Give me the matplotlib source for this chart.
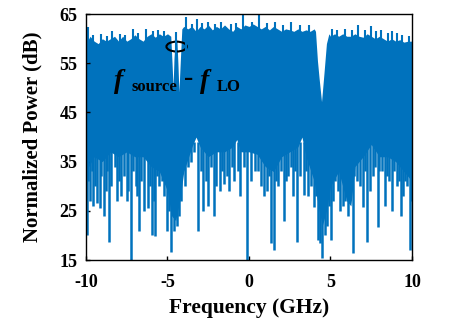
import matplotlib
matplotlib.use("Agg")
import matplotlib.pyplot as plt
from matplotlib.patches import Ellipse

plt.rcParams["axes.unicode_minus"] = False

# upper envelope of the spectrum (GHz, dB)
top_freq = [-10.0, -9.75, -9.5, -9.25, -9.0, -8.75, -8.5, -8.25, -8.0, -7.75, -7.5, -7.25,
            -7.0, -6.75, -6.5, -6.25, -6.0, -5.75, -5.5, -5.25, -5.0, -4.8, -4.72, -4.66,
            -4.6, -4.5, -4.42, -4.36, -4.3, -4.22, -4.12, -4.0, -3.75, -3.5, -3.25, -3.0,
            -2.75, -2.5, -2.25, -2.0, -1.75, -1.5, -1.25, -1.0, -0.75, -0.5, -0.25, 0.0,
            0.25, 0.5, 0.75, 1.0, 1.25, 1.5, 1.75, 2.0, 2.25, 2.5, 2.75, 3.0, 3.25, 3.5,
            3.75, 4.0, 4.08, 4.2, 4.3, 4.45, 4.6, 4.75, 4.9, 5.0, 5.25, 5.5, 5.75, 6.0,
            6.25, 6.5, 6.75, 7.0, 7.25, 7.5, 7.75, 8.0, 8.25, 8.5, 8.75, 9.0, 9.25, 9.5,
            9.75, 10.0]
top_db = [59.0, 60.5, 59.5, 59.0, 60.0, 59.5, 60.0, 60.5, 59.5, 60.5, 59.5, 60.0,
          60.8, 60.0, 59.5, 60.5, 61.0, 60.3, 61.0, 60.5, 61.0, 60.5, 55.0, 50.2,
          56.0, 61.0, 59.5, 55.0, 49.2, 55.0, 62.0, 62.5, 62.0, 62.5, 61.5, 62.5,
          62.0, 62.8, 61.8, 62.5, 62.0, 62.8, 62.0, 61.5, 62.5, 62.0, 62.8, 62.5,
          63.0, 62.5, 62.0, 62.5, 61.8, 62.5, 62.0, 61.5, 62.0, 61.8, 61.5, 62.0, 61.5, 61.8,
          61.5, 62.0, 61.5, 55.5, 52.0, 47.2, 53.0, 59.0, 61.0, 60.5, 61.0, 60.5, 61.0, 60.5,
          60.5, 61.0, 60.5, 60.3, 61.0, 60.5, 60.0, 60.5, 60.0, 59.5, 60.0, 59.5, 59.8, 59.3,
          59.5, 59.5]

# narrow upward peaks
peak_freq = [-9.9, -9.6, -9.1, -8.7, -8.4, -7.9, -7.6, -7.1, -6.8, -6.3, -5.9, -5.6, -5.2,
             -4.45, -3.85, -3.5, -3.2, -2.9, -2.5, -2.1, -1.7, -1.1, -0.8, -0.35, 0.2, 0.64,
             1.1, 1.6, 2.1, 2.6, 3.1, 3.7, 5.1, 5.4, 5.9, 6.3, 6.69, 7.1, 7.5, 7.8, 8.1, 8.5,
             8.8, 9.1, 9.4, 9.8]
peak_db = [62.3, 60.8, 61.0, 60.5, 61.5, 61.0, 60.8, 62.0, 61.2, 62.0, 61.5, 61.8, 61.5,
           61.3, 64.5, 63.0, 64.0, 63.2, 63.5, 63.0, 63.5, 63.0, 63.2, 65.0, 63.5, 64.8,
           63.2, 63.5, 62.8, 63.5, 62.8, 62.8, 62.0, 61.7, 62.0, 61.8, 62.8, 61.8, 62.5, 61.5,
           61.8, 61.2, 61.5, 61.2, 60.8, 60.5]

# lower edge of the dense part
bot_freq = [-10, -9.5, -9, -8.5, -8, -7.5, -7, -6.5, -6, -5.5, -5, -4.75, -4.5, -4.25,
            -4, -3.5, -3.25, -3, -2.5, -2, -1.5, -1, -0.75, -0.5, 0, 0.5, 1, 1.5, 2,
            2.5, 3, 3.25, 3.5, 4, 4.25, 4.5, 4.75, 5, 5.5, 6, 6.25, 6.5, 7, 7.5, 8,
            8.5, 9, 9.5, 10]
bot_db = [33, 36, 35, 37, 36, 37, 36, 36, 34, 33, 29, 24, 23, 27,
          33, 38, 40, 38, 36, 37, 37, 38, 39.5, 37, 37, 36.5, 34, 33, 36,
          37, 38, 40, 36, 31, 26, 22, 25, 30, 33, 27, 26, 34, 36, 38.5, 36,
          36, 35, 33, 31]

# deep downward spikes
dip_freq = [-9.96, -9.75, -9.55, -9.35, -9.14, -8.9, -8.59, -8.08, -7.83, -7.5, -7.26,
            -6.95, -6.75, -6.44, -6.2, -5.93, -5.77, -5.52, -5.21, -5.06, -4.77, -4.6,
            -4.4, -4.17, -3.11, -2.8, -2.54, -2.13, -1.8, -1.51, -1.2, -0.9, -0.55, -0.1,
            0.35, 0.9, 1.1, 1.37, 1.53, 1.8, 2.15, 2.4, 2.7, 2.94, 3.37, 3.62, 3.99,
            4.23, 4.35, 4.5, 4.65, 5.03, 5.3, 5.75, 6.1, 6.36, 6.6, 6.97, 7.22, 7.6,
            7.94, 8.15, 8.34, 8.6, 8.75, 9.1, 9.33, 9.6, 9.88]
dip_db = [20, 27, 26, 26.5, 25.6, 24, 18.7, 27, 28, 27, 15,
          30, 21, 25, 25.5, 20, 19.8, 30, 28, 20.8, 16.7, 21,
          22, 27, 21, 25, 26, 24, 29, 30.5, 29, 31, 28, 15,
          33, 28, 29, 18.4, 17, 30, 23, 32, 28, 18.7, 28.3, 28, 25.8,
          19, 18.5, 15.5, 20, 19, 31, 26, 24, 16.4, 31, 25.8, 18.7, 32,
          21.8, 33, 26, 31, 25, 30, 24, 31, 17]

# shorter dips between the deep ones
mid_freq = [-9.85, -9.65, -9.45, -9.05, -8.8, -8.7, -8.45, -8.2, -7.95, -7.65, -7.4, -7.1,
            -6.85, -6.6, -6.05, -5.85, -5.65, -5.35, -4.9, -4.3, -3.95, -3.75, -3.55, -3.35,
            -2.95, -2.65, -2.35, -2.0, -1.65, -1.35, -1.05, -0.7, -0.3, 0.15, 0.55, 0.75,
            1.25, 1.65, 1.95, 2.3, 2.55, 2.8, 3.1, 3.5, 3.8, 4.1, 4.8, 4.9, 5.15, 5.45,
            5.6, 5.9, 6.2, 6.45, 6.8, 7.1, 7.4, 7.75, 8.0, 8.45, 8.9, 9.2, 9.45, 9.7, 9.95]
mid_db = [31, 33, 30, 32, 29, 33, 30, 34, 31, 32, 29, 33,
          28, 31, 30, 27, 32, 31, 25, 24, 30, 34, 35, 37,
          33, 31, 34, 30, 33, 32, 34, 33, 34, 31, 33, 30,
          32, 31, 33, 31, 34, 33, 32, 33, 30, 28, 22, 26, 27, 29,
          25, 27, 29, 32, 30, 33, 29, 34, 33, 32, 33, 31, 28, 30, 27]

blue = "#0072BD"
serif = ["Liberation Serif", "DejaVu Serif"]

fig = plt.figure(figsize=(4.74, 3.21), dpi=100)
ax = fig.add_axes([0.1814, 0.19, 0.6878, 0.766])

ax.fill_between(top_freq, 44, top_db, color=blue, lw=0)
ax.fill_between(bot_freq, bot_db, 46, color=blue, lw=0)
ax.vlines(peak_freq, 55, peak_db, color=blue, lw=1.5)
ax.vlines(dip_freq, dip_db, 39, color=blue, lw=1.8)
ax.vlines(mid_freq, mid_db, 39, color=blue, lw=1.8)

ax.add_patch(Ellipse((-4.44, 58.4), 1.25, 2.0, fill=False, ec="black", lw=1.5))

ax.text(-8.3, 50, "f", fontsize=20, fontweight="bold", fontstyle="italic", family=serif)
ax.text(-7.2, 49.3, "source", fontsize=12, fontweight="bold", family=serif)
ax.text(-4.0, 50.5, "-", fontsize=20, fontweight="bold", family=serif)
ax.text(-3.0, 50, "f", fontsize=20, fontweight="bold", fontstyle="italic", family=serif)
ax.text(-1.95, 49.3, "LO", fontsize=12, fontweight="bold", family=serif)

ax.set_xlim(-10, 10)
ax.set_ylim(15, 65)
ax.set_xticks([-10, -5, 0, 5, 10])
ax.set_yticks([15, 25, 35, 45, 55, 65])
ax.tick_params(direction="in", length=3, width=1, labelsize=13)
ax.tick_params(axis="x", pad=10)
ax.tick_params(axis="y", pad=6)
for lab in ax.get_xticklabels() + ax.get_yticklabels():
    lab.set_family(serif)
    lab.set_fontweight("bold")
for sp in ax.spines.values():
    sp.set_linewidth(1.0)

ax.set_xlabel("Frequency (GHz)", fontsize=15.5, fontweight="bold", family=serif, labelpad=5)
ax.set_ylabel("Normalized Power (dB)", fontsize=15, fontweight="bold", family=serif, labelpad=12)

fig.savefig("out.png", dpi=100)
